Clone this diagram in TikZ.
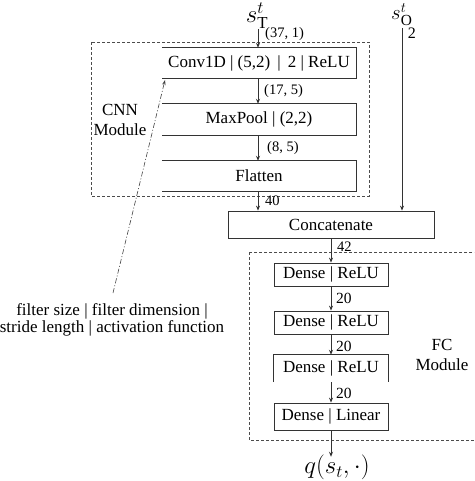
\documentclass[tikz,border=0pt]{standalone}
\usepackage{fontspec}
\setmainfont{Liberation Serif}
\usetikzlibrary{arrows.meta}
\begin{document}
\begin{tikzpicture}[x=1pt,y=-1pt,
  lay/.style={inner sep=0pt,font=\fontsize{17}{17}\selectfont},
  edge/.style={draw=black!80,line width=0.8pt},
  flow/.style={draw=black!80,line width=0.8pt,-{Stealth[length=5pt,width=4pt]}},
  dimlab/.style={anchor=west,inner sep=0pt,font=\fontsize{14.5}{14.5}\selectfont},
  module/.style={draw=black!70,line width=0.7pt,dash pattern=on 3pt off 2pt},
  modlab/.style={align=center,inner sep=0pt,font=\fontsize{17}{20}\selectfont},
  mathlab/.style={inner sep=0pt,font=\fontsize{24}{28}\selectfont}]
\useasboundingbox (0,0) rectangle (474,481);
\begin{scope}
\clip (0,0) rectangle (474,481);
% module frames
\draw[module] (91,42) rectangle (369,196);
\draw[module] (249,252) rectangle (490,440);
\end{scope}
\node[modlab] (cnnlab) at (120,120) {CNN\\Module};
\node[modlab] (fclab) at (442,355) {FC\\Module};
% inputs
\node[mathlab,anchor=south] (sT) at (257,29) {$s^{t}_{\mathrm{T}}$};
\node[mathlab,anchor=base west,font=\fontsize{22}{26}\selectfont] (sO) at (391,20) {$s^{t}_{\mathrm{O}\kern-4pt\raisebox{-13pt}{\fontsize{16}{16}\selectfont 2}}$};
\coordinate (sOtop) at (402,28);
\coordinate (sTbot) at (258,29);
% CNN layers (left edges missing as in the figure)
\node[lay,minimum width=194pt,minimum height=30pt] (conv) at (259,63) {Conv1D | (5,2) \,|\, 2 | ReLU};
\node[lay,minimum width=194pt,minimum height=31pt] (pool) at (259,119.5) {MaxPool | (2,2)};
\node[lay,minimum width=194pt,minimum height=30pt] (flat) at (259,176) {Flatten};
\foreach \n in {conv,pool,flat}
  \draw[edge] (\n.north west) -- (\n.north east) -- (\n.south east) -- (\n.south west);
% concatenate
\node[lay,draw=black!80,line width=0.8pt,minimum width=206pt,minimum height=27pt] (cat) at (331,224.5) {Concatenate};
% dense layers
\node[lay,draw=black!80,line width=0.8pt,minimum width=114pt,minimum height=23pt] (d1) at (331,274.5) {Dense | ReLU};
\node[lay,draw=black!80,line width=0.8pt,minimum width=114pt,minimum height=23pt] (d2) at (331,322.5) {Dense | ReLU};
\node[lay,minimum width=114pt,minimum height=27pt] (d3) at (331,368.5) {Dense | ReLU};
\draw[edge] (d3.south west) -- (d3.north west) -- (d3.north east) -- (d3.south east);
\node[lay,draw=black!80,line width=0.8pt,minimum width=114pt,minimum height=27pt] (d4) at (331,416.5) {Dense | Linear};
\node[mathlab,anchor=south] (q) at (337,480) {$q(s_t,\cdot)$};
% connectors
\draw[flow] (sTbot) -- (conv.north -| sTbot);
\draw[flow] (conv.south -| sTbot) -- (pool.north -| sTbot);
\draw[flow] (pool.south -| sTbot) -- (flat.north -| sTbot);
\draw[flow] (flat.south -| sTbot) -- (cat.north -| sTbot);
\draw[flow] (sOtop) -- (cat.north -| sOtop);
\draw[flow] (cat.south -| d1.north) -- (d1.north);
\draw[flow] (d1.south) -- (d2.north);
\draw[flow] (d2.south) -- (d3.north);
\draw[flow] (d3.south) -- (d4.north);
\draw[flow] (d4.south) -- ([yshift=-2pt]d4.south |- q.north);
% dimension labels
\node[dimlab] (l1) at (265,34) {(37, 1)};
\node[dimlab] (l2) at (264,91) {(17, 5)};
\node[dimlab] (l3) at (267,148) {(8, 5)};
\node[dimlab] (l4) at (265,201) {40};
\node[dimlab] (l5) at (337,246.5) {42};
\node[dimlab,font=\fontsize{15.5}{15.5}\selectfont] (l6) at (336,298) {20};
\node[dimlab,font=\fontsize{15.5}{15.5}\selectfont] (l7) at (336,346) {20};
\node[dimlab,font=\fontsize{15.5}{15.5}\selectfont] (l8) at (336,393.5) {20};
% annotation
\node[inner sep=0pt,align=center,font=\fontsize{17}{15}\selectfont] (note) at (112,320) {filter size | filter dimension |\\stride length | activation function};
\coordinate (notetop) at (113,293);
\coordinate (convcorner) at (165,80);
\draw[draw=black!75,line width=0.6pt,dash pattern=on 5pt off 2pt on 1pt off 2pt,-{Stealth[length=5pt,width=3.5pt,open]}] (notetop) -- (convcorner);
\end{tikzpicture}
\end{document}
